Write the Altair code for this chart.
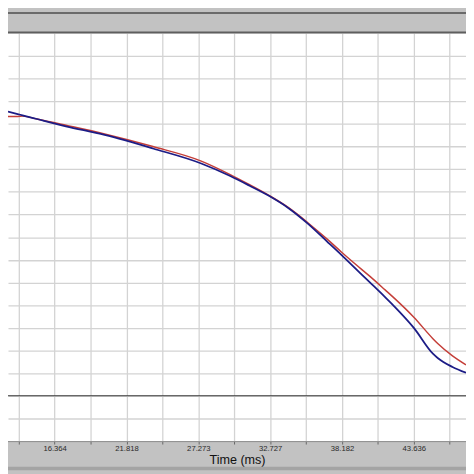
import altair as alt
import pandas as pd

# Values
time_ms = [12.820, 13.554, 13.921, 15.021, 17.222, 20.157, 23.826, 27.494, 29.695,
           31.163, 32.630, 34.098, 35.565, 37.033, 38.133, 39.234, 40.261, 41.435,
           42.169, 43.636, 45.104, 45.471, 46.571, 47.598]
blue_vals = [12.543, 12.432, 12.376, 12.214, 11.894, 11.510, 10.913, 10.252, 9.697,
             9.270, 8.823, 8.289, 7.607, 6.817, 6.220, 5.602, 5.026, 4.364, 3.938,
             2.999, 1.847, 1.655, 1.271, 1.015]
red_vals = [12.329, 12.329, 12.342, 12.214, 11.937, 11.553, 10.998, 10.358, 9.761,
            9.313, 8.844, 8.311, 7.649, 6.924, 6.348, 5.794, 5.290, 4.684, 4.300,
            3.468, 2.509, 2.295, 1.762, 1.365]

x_grid = [13.636, 16.364, 19.091, 21.818, 24.545, 27.273, 30.0, 32.727, 35.455,
          38.182, 40.909, 43.636, 46.364]
x_labels = [16.364, 21.818, 27.273, 32.727, 38.182, 43.636]
y_grid = list(range(-1, 16))
x_domain = [12.82, 47.598]
y_domain = [-2, 16]

W = 466
H = 415

df = pd.DataFrame({"t": time_ms, "blue": blue_vals, "red": red_vals})

label_list = ",".join(str(v) for v in x_labels)
x_enc = alt.X(
    "t:Q",
    scale=alt.Scale(domain=x_domain, nice=False, zero=False),
    axis=alt.Axis(
        values=x_grid, tickCount=60,
        labelExpr=f"indexof([{label_list}], datum.value) >= 0 ? format(datum.value, '.3f') : ''",
        grid=True, gridColor="#d3d3d3", gridWidth=1.3,
        domain=False, ticks=True, tickSize=3, tickColor="#666666",
        labelFont="Liberation Sans", labelFontSize=7.8, labelColor="#2a2a2a",
        labelPadding=1, labelFlush=False, labelOverlap=False,
        title="Time (ms)", titleFont="Liberation Sans", titleFontSize=12.8,
        titleFontWeight="normal", titleColor="#111111",
        titleBaseline="alphabetic", titleY=23, titleX=W / 2,
    ),
)
y_scale = alt.Scale(domain=y_domain, nice=False, zero=False)

base = alt.Chart(df)

red = base.mark_line(color="#c43e38", strokeWidth=1.5, interpolate="monotone").encode(
    x=x_enc,
    y=alt.Y("red:Q", scale=y_scale,
            axis=alt.Axis(values=y_grid, tickCount=60, grid=True, gridColor="#d3d3d3",
                          gridWidth=1.3, labels=False, ticks=False, domain=False,
                          title=None)),
)
blue = base.mark_line(color="#1c1c86", strokeWidth=1.8, interpolate="monotone").encode(
    x="t:Q",
    y=alt.Y("blue:Q", scale=y_scale),
)

one = alt.Chart(pd.DataFrame({"a": [0]}))
zero_line = one.mark_rule(color="#3a3a3a", strokeWidth=1.2).encode(
    y=alt.datum(0, scale=y_scale), x=alt.value(0), x2=alt.value(W)
)
top_edge = one.mark_rule(color="#6a6a6a", strokeWidth=2).encode(
    x=alt.value(0), x2=alt.value(W), y=alt.value(-20.6)
)
top_line = one.mark_rule(color="#5e5e5e", strokeWidth=2).encode(
    x=alt.value(0), x2=alt.value(W), y=alt.value(-0.8)
)
bottom_line = one.mark_rule(color="#8e8e8e", strokeWidth=1).encode(
    x=alt.value(0), x2=alt.value(W), y=alt.value(H + 0.5)
)
bottom_strip = one.mark_rule(color="#a4a4a4", strokeWidth=3.5).encode(
    x=alt.value(0), x2=alt.value(W), y=alt.value(H + 27.8)
)

chart = alt.layer(
    red, zero_line, blue, top_edge, top_line, bottom_line, bottom_strip
).properties(
    width=W, height=H,
    autosize=alt.AutoSizeParams(type="none"),
    padding={"left": 0, "right": 0, "top": 21.6, "bottom": 29.5},
    background="#c2c2c2",
).configure_view(fill="white", stroke=None)

chart.save("out.html", embed_options={"renderer": "svg", "actions": False})
